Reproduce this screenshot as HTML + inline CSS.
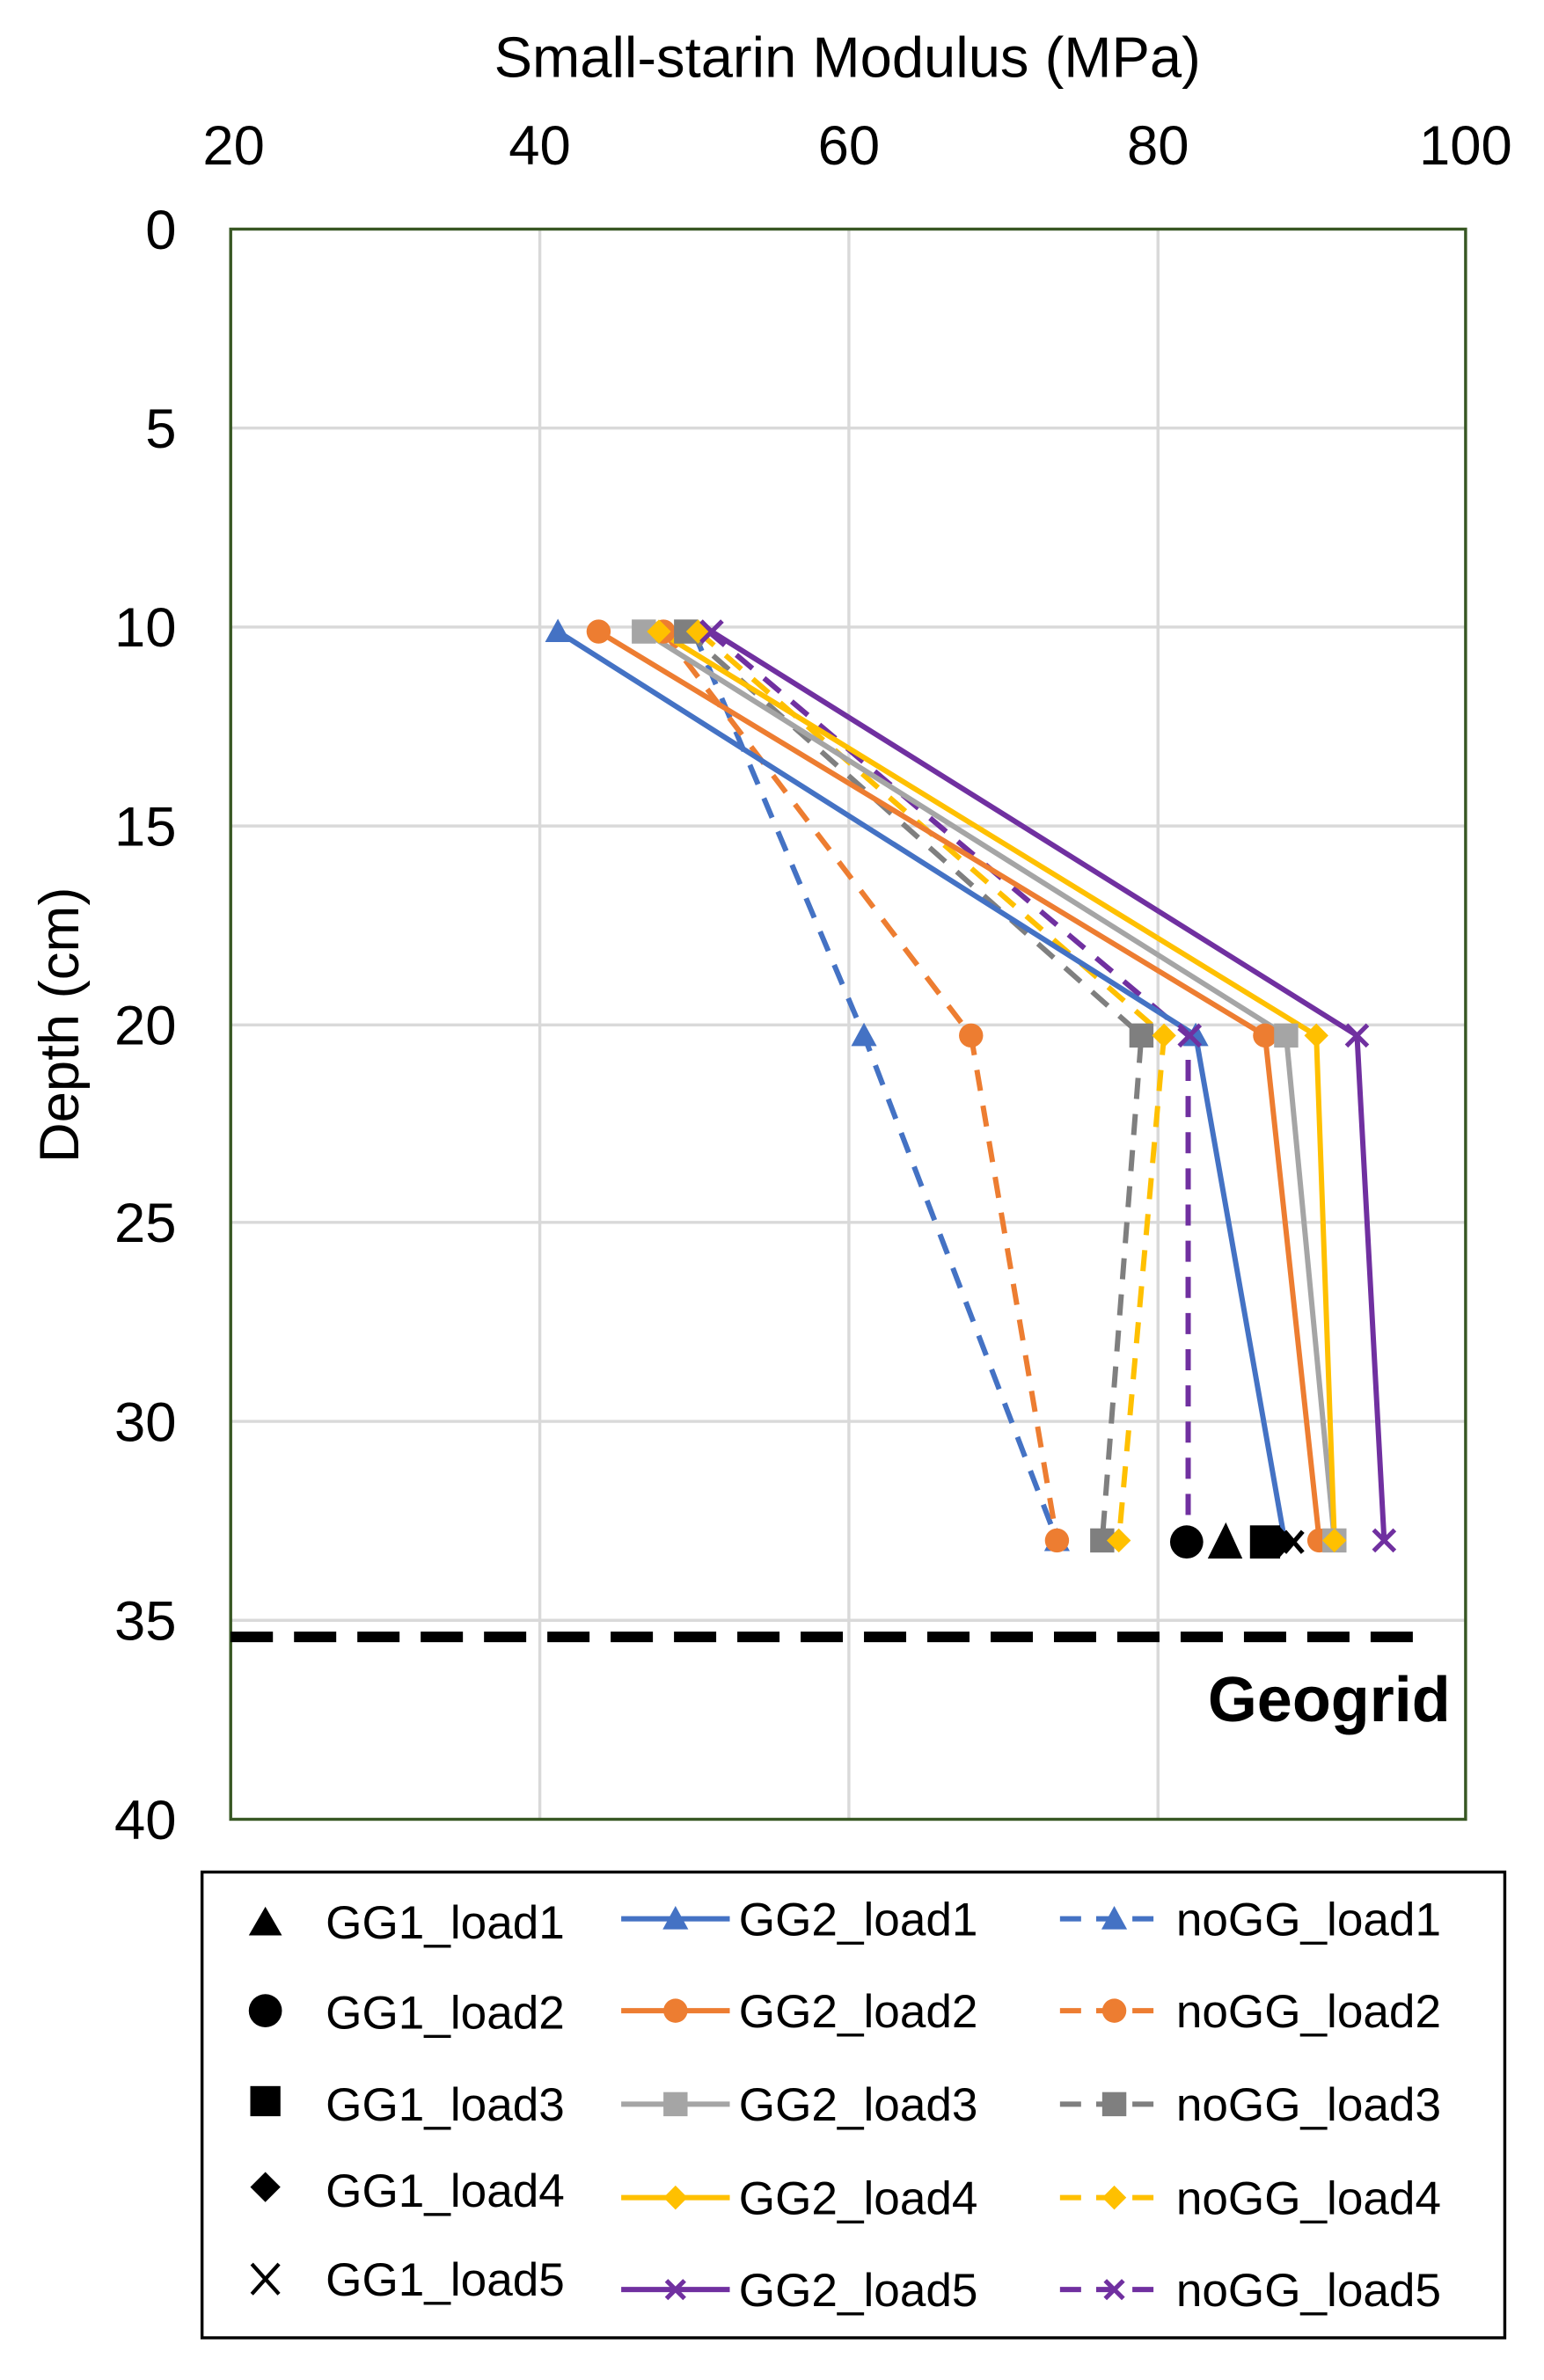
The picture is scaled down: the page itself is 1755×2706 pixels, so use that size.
<!DOCTYPE html>
<html><head><meta charset="utf-8"><style>html,body{margin:0;padding:0;background:#fff}svg{display:block}</style></head>
<body>
<svg width="1755" height="2706" viewBox="0 0 1024 1579" preserveAspectRatio="none" xmlns="http://www.w3.org/2000/svg" font-family="Liberation Sans, sans-serif">
<defs>
<path id="tri" d="M0,-8.5 L8.5,7 L-8.5,7Z"/>
<path id="dia" d="M0,-8 L8,0 L0,8 L-8,0Z"/>
</defs>
<rect width="1024" height="1579" fill="#fff"/>
<g stroke="#d9d9d9" stroke-width="2">
<line x1="358" y1="152" x2="358" y2="1207"/><line x1="563" y1="152" x2="563" y2="1207"/><line x1="768" y1="152" x2="768" y2="1207"/>
<line x1="153" y1="284" x2="972" y2="284"/><line x1="153" y1="416" x2="972" y2="416"/><line x1="153" y1="548" x2="972" y2="548"/>
<line x1="153" y1="680" x2="972" y2="680"/><line x1="153" y1="811" x2="972" y2="811"/><line x1="153" y1="943" x2="972" y2="943"/><line x1="153" y1="1075" x2="972" y2="1075"/>
</g>
<rect x="153" y="152" width="819" height="1055" fill="none" stroke="#385723" stroke-width="2"/>
<g font-size="37" fill="#000" text-anchor="middle">
<text x="155" y="109">20</text><text x="358" y="109">40</text><text x="563" y="109">60</text><text x="768" y="109">80</text><text x="972" y="109">100</text>
<text x="562" y="51" font-size="38">Small-starin Modulus (MPa)</text>
</g>
<g font-size="37" fill="#000" text-anchor="end">
<text x="117" y="165">0</text><text x="117" y="297">5</text><text x="117" y="429">10</text><text x="117" y="561">15</text>
<text x="117" y="693">20</text><text x="117" y="824">25</text><text x="117" y="956">30</text><text x="117" y="1088">35</text><text x="117" y="1220">40</text>
</g>
<text transform="translate(52,680) rotate(-90)" font-size="37" text-anchor="middle">Depth (cm)</text>
<line x1="153" y1="1086" x2="948" y2="1086" stroke="#000" stroke-width="7" stroke-dasharray="28,14"/>
<text x="962" y="1142" font-size="42" font-weight="bold" text-anchor="end">Geogrid</text>
<g fill="none" stroke-width="3.5">
<polyline points="460,419 573,687 701,1022" stroke="#4472C4" stroke-dasharray="14,10"/>
<polyline points="440,419 644,687 701,1022" stroke="#ED7D31" stroke-dasharray="14,10"/>
<polyline points="455,419 757,687 731,1022" stroke="#7F7F7F" stroke-dasharray="14,10"/>
<polyline points="463,419 772,687 742,1022" stroke="#FFC000" stroke-dasharray="14,10"/>
<polyline points="470,419 788,687 788,1022" stroke="#7030A0" stroke-dasharray="14,10"/>
<polyline points="370,419 793,687 852,1022" stroke="#4472C4"/>
<polyline points="397,419 839,687 875,1022" stroke="#ED7D31"/>
<polyline points="427,419 853,687 885,1022" stroke="#A5A5A5"/>
<polyline points="437,419 873,687 885,1022" stroke="#FFC000"/>
<polyline points="472,419 900,687 918,1022" stroke="#7030A0"/>
</g>
<g fill="#4472C4"><use href="#tri" x="370" y="419"/><use href="#tri" x="793" y="687"/><use href="#tri" x="573" y="687"/><use href="#tri" x="701" y="1022"/></g>
<g fill="#ED7D31"><circle cx="397" cy="419" r="8"/><circle cx="440" cy="419" r="8"/><circle cx="839" cy="687" r="8"/><circle cx="644" cy="687" r="8"/><circle cx="875" cy="1022" r="8"/><circle cx="701" cy="1022" r="8"/></g>
<g fill="#A5A5A5"><rect x="419" y="411" width="16" height="16"/><rect x="845" y="679" width="16" height="16"/><rect x="877" y="1014" width="16" height="16"/></g>
<g fill="#7F7F7F"><rect x="447" y="411" width="16" height="16"/><rect x="749" y="679" width="16" height="16"/><rect x="723" y="1014" width="16" height="16"/></g>
<g fill="#FFC000"><use href="#dia" x="437" y="419"/><use href="#dia" x="463" y="419"/><use href="#dia" x="873" y="687"/><use href="#dia" x="772" y="687"/><use href="#dia" x="885" y="1022"/><use href="#dia" x="742" y="1022"/></g>
<g stroke="#7030A0" stroke-width="3"><path d="M465,412l14,14M479,412l-14,14M782,680l14,14M796,680l-14,14M893,680l14,14M907,680l-14,14M911,1015l14,14M925,1015l-14,14"/></g>
<g fill="#000"><circle cx="787" cy="1023" r="11"/><path d="M813,1010 L824,1034 L801,1034Z"/><rect x="829" y="1012" width="20" height="22"/><path d="M848,1012 L858,1023 L848,1034 L840,1023Z"/></g>
<path d="M852,1016l12,14M864,1016l-12,14" stroke="#000" stroke-width="3"/>
<rect x="134" y="1242" width="864" height="309" fill="#fff" stroke="#000" stroke-width="2"/>
<g font-size="31" fill="#000">
<text x="216" y="1286">GG1_load1</text><text x="216" y="1346">GG1_load2</text><text x="216" y="1407">GG1_load3</text><text x="216" y="1464">GG1_load4</text><text x="216" y="1523">GG1_load5</text>
<text x="490" y="1284">GG2_load1</text><text x="490" y="1345">GG2_load2</text><text x="490" y="1407">GG2_load3</text><text x="490" y="1469">GG2_load4</text><text x="490" y="1530">GG2_load5</text>
<text x="780" y="1284">noGG_load1</text><text x="780" y="1345">noGG_load2</text><text x="780" y="1407">noGG_load3</text><text x="780" y="1469">noGG_load4</text><text x="780" y="1530">noGG_load5</text>
</g>
<g fill="#000"><path d="M176,1265 L187,1284 L165,1284Z"/><circle cx="176" cy="1334" r="11"/><rect x="166" y="1384" width="20" height="20"/><path d="M176,1441 L186,1451 L176,1461 L166,1451Z"/></g>
<path d="M167,1502l18,20M185,1502l-18,20" stroke="#000" stroke-width="2.5"/>
<g stroke-width="3.5">
<line x1="412" y1="1273" x2="484" y2="1273" stroke="#4472C4"/><line x1="412" y1="1334" x2="484" y2="1334" stroke="#ED7D31"/><line x1="412" y1="1396" x2="484" y2="1396" stroke="#A5A5A5"/><line x1="412" y1="1458" x2="484" y2="1458" stroke="#FFC000"/><line x1="412" y1="1519" x2="484" y2="1519" stroke="#7030A0"/>
<g stroke-dasharray="14,10"><line x1="703" y1="1273" x2="775" y2="1273" stroke="#4472C4"/><line x1="703" y1="1334" x2="775" y2="1334" stroke="#ED7D31"/><line x1="703" y1="1396" x2="775" y2="1396" stroke="#7F7F7F"/><line x1="703" y1="1458" x2="775" y2="1458" stroke="#FFC000"/><line x1="703" y1="1519" x2="775" y2="1519" stroke="#7030A0"/></g>
</g>
<use href="#tri" x="448" y="1273" fill="#4472C4"/><use href="#tri" x="739" y="1273" fill="#4472C4"/>
<circle cx="448" cy="1334" r="8" fill="#ED7D31"/><circle cx="739" cy="1334" r="8" fill="#ED7D31"/>
<rect x="440" y="1388" width="16" height="16" fill="#A5A5A5"/><rect x="731" y="1388" width="16" height="16" fill="#7F7F7F"/>
<use href="#dia" x="448" y="1458" fill="#FFC000"/><use href="#dia" x="739" y="1458" fill="#FFC000"/>
<path d="M442,1513l12,12M454,1513l-12,12M733,1513l12,12M745,1513l-12,12" stroke="#7030A0" stroke-width="3"/>
</svg>
</body></html>
